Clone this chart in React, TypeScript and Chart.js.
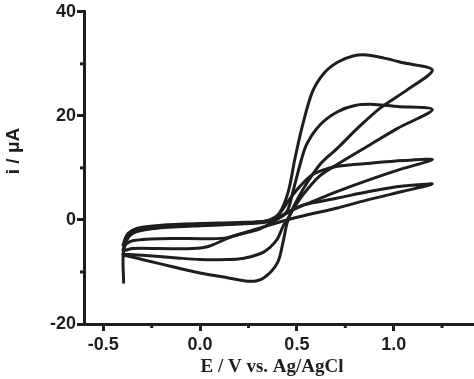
import React, { useEffect, useRef } from "react";
import { Chart, registerables } from "chart.js";

Chart.register(...registerables);

// Cyclic voltammograms: potential E (V) and current i (µA), four scans
const loop1E = [-0.395, -0.398, -0.385, -0.36, -0.3, -0.2, 0.0, 0.2, 0.3, 0.36, 0.41, 0.456, 0.49, 0.53, 0.58, 0.64, 0.71, 0.79, 0.86, 0.95, 1.05, 1.2,
  1.07, 0.93, 0.81, 0.71, 0.62, 0.535, 0.48, 0.45, 0.43, 0.4, 0.33, 0.26, 0.14, 0.0, -0.12, -0.3, -0.38, -0.4];
const loop1I = [-12.2, -7, -4.2, -2.8, -1.9, -1.4, -1.0, -0.7, -0.4, 0.0, 1.3, 5.5, 11.8, 18.3, 24.6, 28.2, 30.3, 31.5, 31.7, 31.1, 30.2, 28.8,
  25, 21.5, 17.5, 13.8, 10.7, 6.1, 2.3, -0.5, -4, -8.2, -11.1, -11.8, -11.1, -10.2, -9.2, -7.6, -6.9, -6.8];

const loop2E = [-0.4, -0.38, -0.35, -0.3, -0.2, 0.0, 0.2, 0.33, 0.4, 0.45, 0.48, 0.517, 0.55, 0.62, 0.71, 0.8, 0.9, 1.02, 1.2,
  1.02, 0.88, 0.71, 0.62, 0.535, 0.48, 0.45, 0.43, 0.4, 0.36, 0.31, 0.22, 0.14, 0.0, -0.12, -0.3, -0.4];
const loop2I = [-6.8, -4, -2.6, -2, -1.5, -1.1, -0.8, -0.5, 0.2, 1.7, 5.5, 10.7, 14.5, 18.3, 20.8, 22, 22.2, 21.8, 21.2,
  17.6, 14.5, 10.7, 8.5, 5, 2, 0, -1.1, -3.6, -5.3, -6.5, -7.4, -7.6, -7.6, -7.3, -6.8, -6.6];

const loop3E = [-0.4, -0.38, -0.35, -0.3, -0.2, 0.0, 0.2, 0.33, 0.4, 0.466, 0.517, 0.585, 0.71, 0.88, 1.05, 1.2,
  1.05, 0.88, 0.71, 0.585, 0.466, 0.4, 0.31, 0.17, 0.05, -0.04, -0.21, -0.35, -0.4];
const loop3I = [-6, -3.5, -2.2, -1.6, -1.2, -0.9, -0.6, -0.3, 0.8, 4.2, 6.5, 8.8, 10.3, 10.9, 11.4, 11.6,
  9.9, 7.8, 5.5, 3.6, 1.7, 0.2, -1.7, -3.1, -5, -5.5, -5.5, -5.5, -6];

const loop4E = [-0.4, -0.38, -0.35, -0.3, -0.2, 0.0, 0.2, 0.35, 0.42, 0.48, 0.535, 0.71, 0.88, 1.05, 1.2,
  1.05, 0.88, 0.71, 0.535, 0.42, 0.26, 0.14, 0.05, -0.21, -0.35, -0.4];
const loop4I = [-5, -3, -2, -1.4, -1.0, -0.7, -0.5, -0.2, 0.8, 2.0, 2.9, 4.2, 5.5, 6.5, 6.9,
  5.5, 4.0, 2.3, 0.8, -0.3, -2.1, -3.4, -3.6, -3.6, -4, -5];

const xMajorTicks = [-0.5, 0.0, 0.5, 1.0];
const xMinorTicks = [-0.25, 0.25, 0.75, 1.25];
const yMajorTicks = [-20, 0, 20, 40];
const yMinorTicks = [-10, 10, 30];

const xTitle = "E / V vs. Ag/AgCl";
const yTitle = "i / μA";

const INK = "#1e1e1e";

function toPoints(xs: number[], ys: number[]) {
  return xs.map((x, k) => ({ x, y: ys[k] }));
}

const extrasPlugin = {
  id: "extras",
  afterDraw(chart: any) {
    const { ctx, chartArea, scales } = chart;
    const xs = scales.x;
    const ys = scales.y;
    ctx.save();
    ctx.strokeStyle = INK;
    ctx.lineWidth = 3;
    xMinorTicks.forEach((v) => {
      const px = xs.getPixelForValue(v);
      ctx.beginPath();
      ctx.moveTo(px, chartArea.bottom);
      ctx.lineTo(px, chartArea.bottom + 4);
      ctx.stroke();
    });
    yMinorTicks.forEach((v) => {
      const py = ys.getPixelForValue(v);
      ctx.beginPath();
      ctx.moveTo(chartArea.left, py);
      ctx.lineTo(chartArea.left - 4, py);
      ctx.stroke();
    });
    ctx.fillStyle = INK;
    ctx.textAlign = "center";
    ctx.textBaseline = "middle";
    ctx.font = "bold 19px 'Liberation Serif', 'Times New Roman', serif";
    ctx.fillText(xTitle, 272, 367);
    ctx.translate(14, 151);
    ctx.rotate(-Math.PI / 2);
    ctx.font = "bold 19px 'Liberation Sans', Arial, sans-serif";
    ctx.fillText(yTitle, 0, 0);
    ctx.restore();
  },
};

export default function App() {
  const ref = useRef<HTMLCanvasElement | null>(null);
  useEffect(() => {
    if (!ref.current) return;
    const lineStyle = {
      showLine: true,
      borderColor: INK,
      borderWidth: 3,
      pointRadius: 0,
      tension: 0.3,
      fill: false,
    };
    const chart = new Chart(ref.current, {
      type: "scatter",
      data: {
        datasets: [
          { ...lineStyle, data: toPoints(loop1E, loop1I) },
          { ...lineStyle, data: toPoints(loop2E, loop2I) },
          { ...lineStyle, data: toPoints(loop3E, loop3I) },
          { ...lineStyle, data: toPoints(loop4E, loop4I) },
        ],
      },
      options: {
        responsive: false,
        animation: false,
        layout: { padding: { top: 0, right: 1, left: 0, bottom: 0 } },
        plugins: { legend: { display: false }, tooltip: { enabled: false } },
        scales: {
          x: {
            type: "linear",
            min: -0.6,
            max: 1.41,
            grid: { drawOnChartArea: false, drawTicks: true, tickLength: 7, tickWidth: 3, tickColor: INK },
            border: { display: true, width: 3, color: INK },
            afterBuildTicks: (s: any) => { s.ticks = xMajorTicks.map((v) => ({ value: v })); },
            afterFit: (s: any) => { s.height = 55; },
            ticks: {
              color: INK,
              padding: 3,
              maxRotation: 0,
              font: { family: "'Liberation Sans', Arial, sans-serif", size: 18, weight: "bold" },
              callback: (v: any) => Number(v).toFixed(1),
            },
          },
          y: {
            type: "linear",
            min: -20,
            max: 40,
            grid: { drawOnChartArea: false, drawTicks: true, tickLength: 7, tickWidth: 3, tickColor: INK },
            border: { display: true, width: 3, color: INK },
            afterBuildTicks: (s: any) => { s.ticks = yMajorTicks.map((v) => ({ value: v })); },
            afterFit: (s: any) => { s.width = 84; },
            ticks: {
              color: INK,
              padding: 1,
              font: { family: "'Liberation Sans', Arial, sans-serif", size: 18, weight: "bold" },
              callback: (v: any) => String(v),
            },
          },
        },
      },
      plugins: [extrasPlugin],
    } as any);
    return () => chart.destroy();
  }, []);
  return (
    <div style={{ position: "absolute", left: 0, top: 0, width: 474, height: 379, background: "#fff" }}>
      <canvas ref={ref} width={474} height={379} />
    </div>
  );
}
